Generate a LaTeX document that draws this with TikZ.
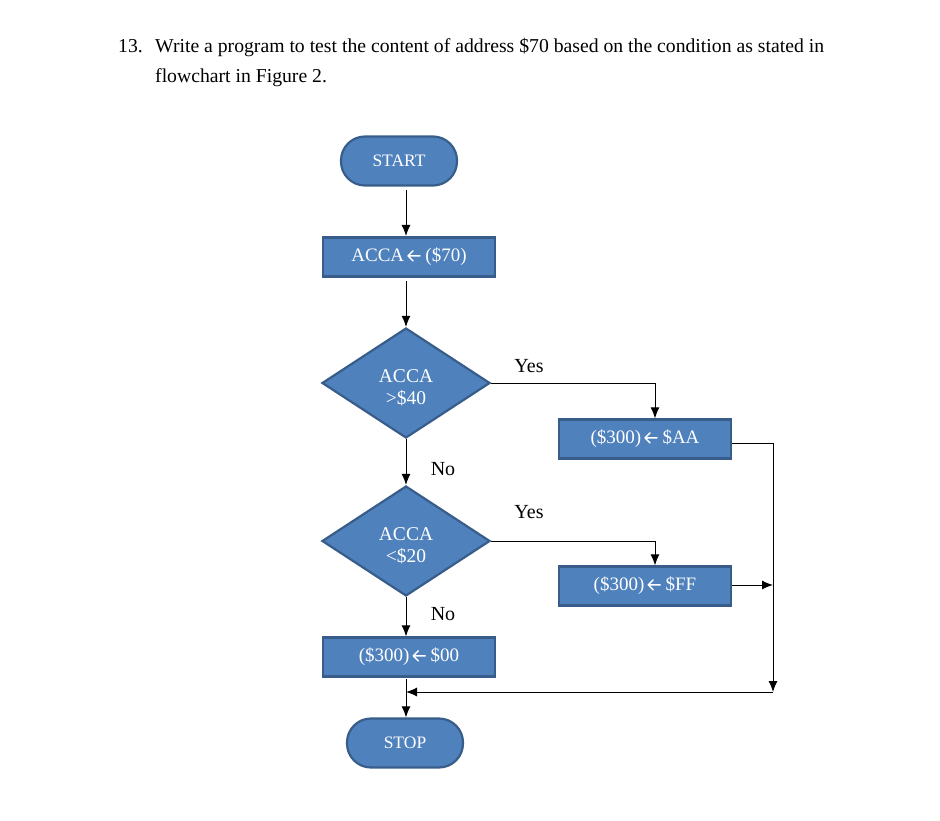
\documentclass[tikz,border=0pt]{standalone}
\usepackage{fontspec}
\setmainfont{Liberation Serif}
\usetikzlibrary{shapes.geometric,arrows.meta,positioning}
\definecolor{boxfill}{HTML}{4F81BD}
\definecolor{boxline}{HTML}{385D8A}
\newcommand{\larr}{\,\tikz[baseline=0pt,x=1pt,y=1pt]{\draw[white,line width=1.4pt,line cap=round,line join=round] (13,6) -- (1,6) (6,11) -- (1,6) -- (6,1);}}
\tikzset{
  base/.style={fill=boxfill,draw=boxline,line width=2.2pt,text=white,inner sep=0pt,font=\fontsize{19}{21}\selectfont},
  term/.style={base,rounded corners=24pt,minimum width=116pt,minimum height=49pt,font=\fontsize{17.5}{19}\selectfont},
  proc/.style={base,minimum width=172pt,minimum height=39pt},
  dec/.style={base,diamond,aspect=1.53,minimum width=168pt,minimum height=110pt},
  dectext/.style={text=white,inner sep=0pt,align=center,font=\fontsize{19.5}{22}\selectfont},
  conn/.style={line width=1pt,-{Latex[length=11pt,width=9pt]}},
  lab/.style={font=\fontsize{20}{22}\selectfont,inner sep=0pt},
}
\begin{document}
\begin{tikzpicture}[x=1pt,y=-1pt]
\useasboundingbox (0,0) rectangle (940,821);
\node[anchor=base west,inner sep=0pt,font=\fontsize{19.7}{22}\selectfont] (num) at (118,53) {13.};
\node[anchor=base west,inner sep=0pt,font=\fontsize{19.7}{22}\selectfont] (t1) at (155,53) {Write a program to test the content of address \$70 based on the condition as stated in};
\node[anchor=base west,inner sep=0pt,font=\fontsize{19.7}{22}\selectfont] (t2) at (155,83) {flowchart in Figure 2.};

\node[term] (start) at (399,161) {START};
\node[proc] (load) at (409,257) {ACCA\larr{} (\$70)};
\node[dec] (d1) at (406,383) {};
\node[dectext] (d1t) at (406,388) {ACCA\\>\$40};
\node[proc] (aa) at (645,439) {(\$300)\larr{} \$AA};
\node[dec] (d2) at (406,541) {};
\node[dectext] (d2t) at (406,546) {ACCA\\<\$20};
\node[proc] (ff) at (645,586) {(\$300)\larr{} \$FF};
\node[proc] (zz) at (409,657) {(\$300)\larr{} \$00};
\node[term] (stop) at (405,743) {STOP};

\coordinate (c1) at (655,383);
\coordinate (c2) at (655,541);
\coordinate (r1) at (773,443);
\coordinate (r2) at (773,585);
\coordinate (r3) at (773,692);
\coordinate (m) at (406,692);

\draw[conn] (406,190) -- (406,236);
\draw[conn] (406,281) -- (d1.north);
\draw[conn] (d1.east) -- (c1) -- (aa.north -| c1);
\draw[conn] (d1.south) -- (d2.north);
\draw[conn] (d2.east) -- (c2) -- (ff.north -| c2);
\draw[conn] (d2.south) -- (d2.south |- zz.north);
\draw[conn] (aa.east |- r1) -- (r1) -- (r3);
\draw[conn] (ff.east |- r2) -- (r2);
\draw[conn] (r3) -- (m);
\draw[conn] (406,679) -- (stop.north -| 406,0);

\node[lab] (y1) at (529,366) {Yes};
\node[lab] (n1) at (443,469) {No};
\node[lab] (y2) at (529,512) {Yes};
\node[lab] (n2) at (443,614) {No};
\end{tikzpicture}
\end{document}
